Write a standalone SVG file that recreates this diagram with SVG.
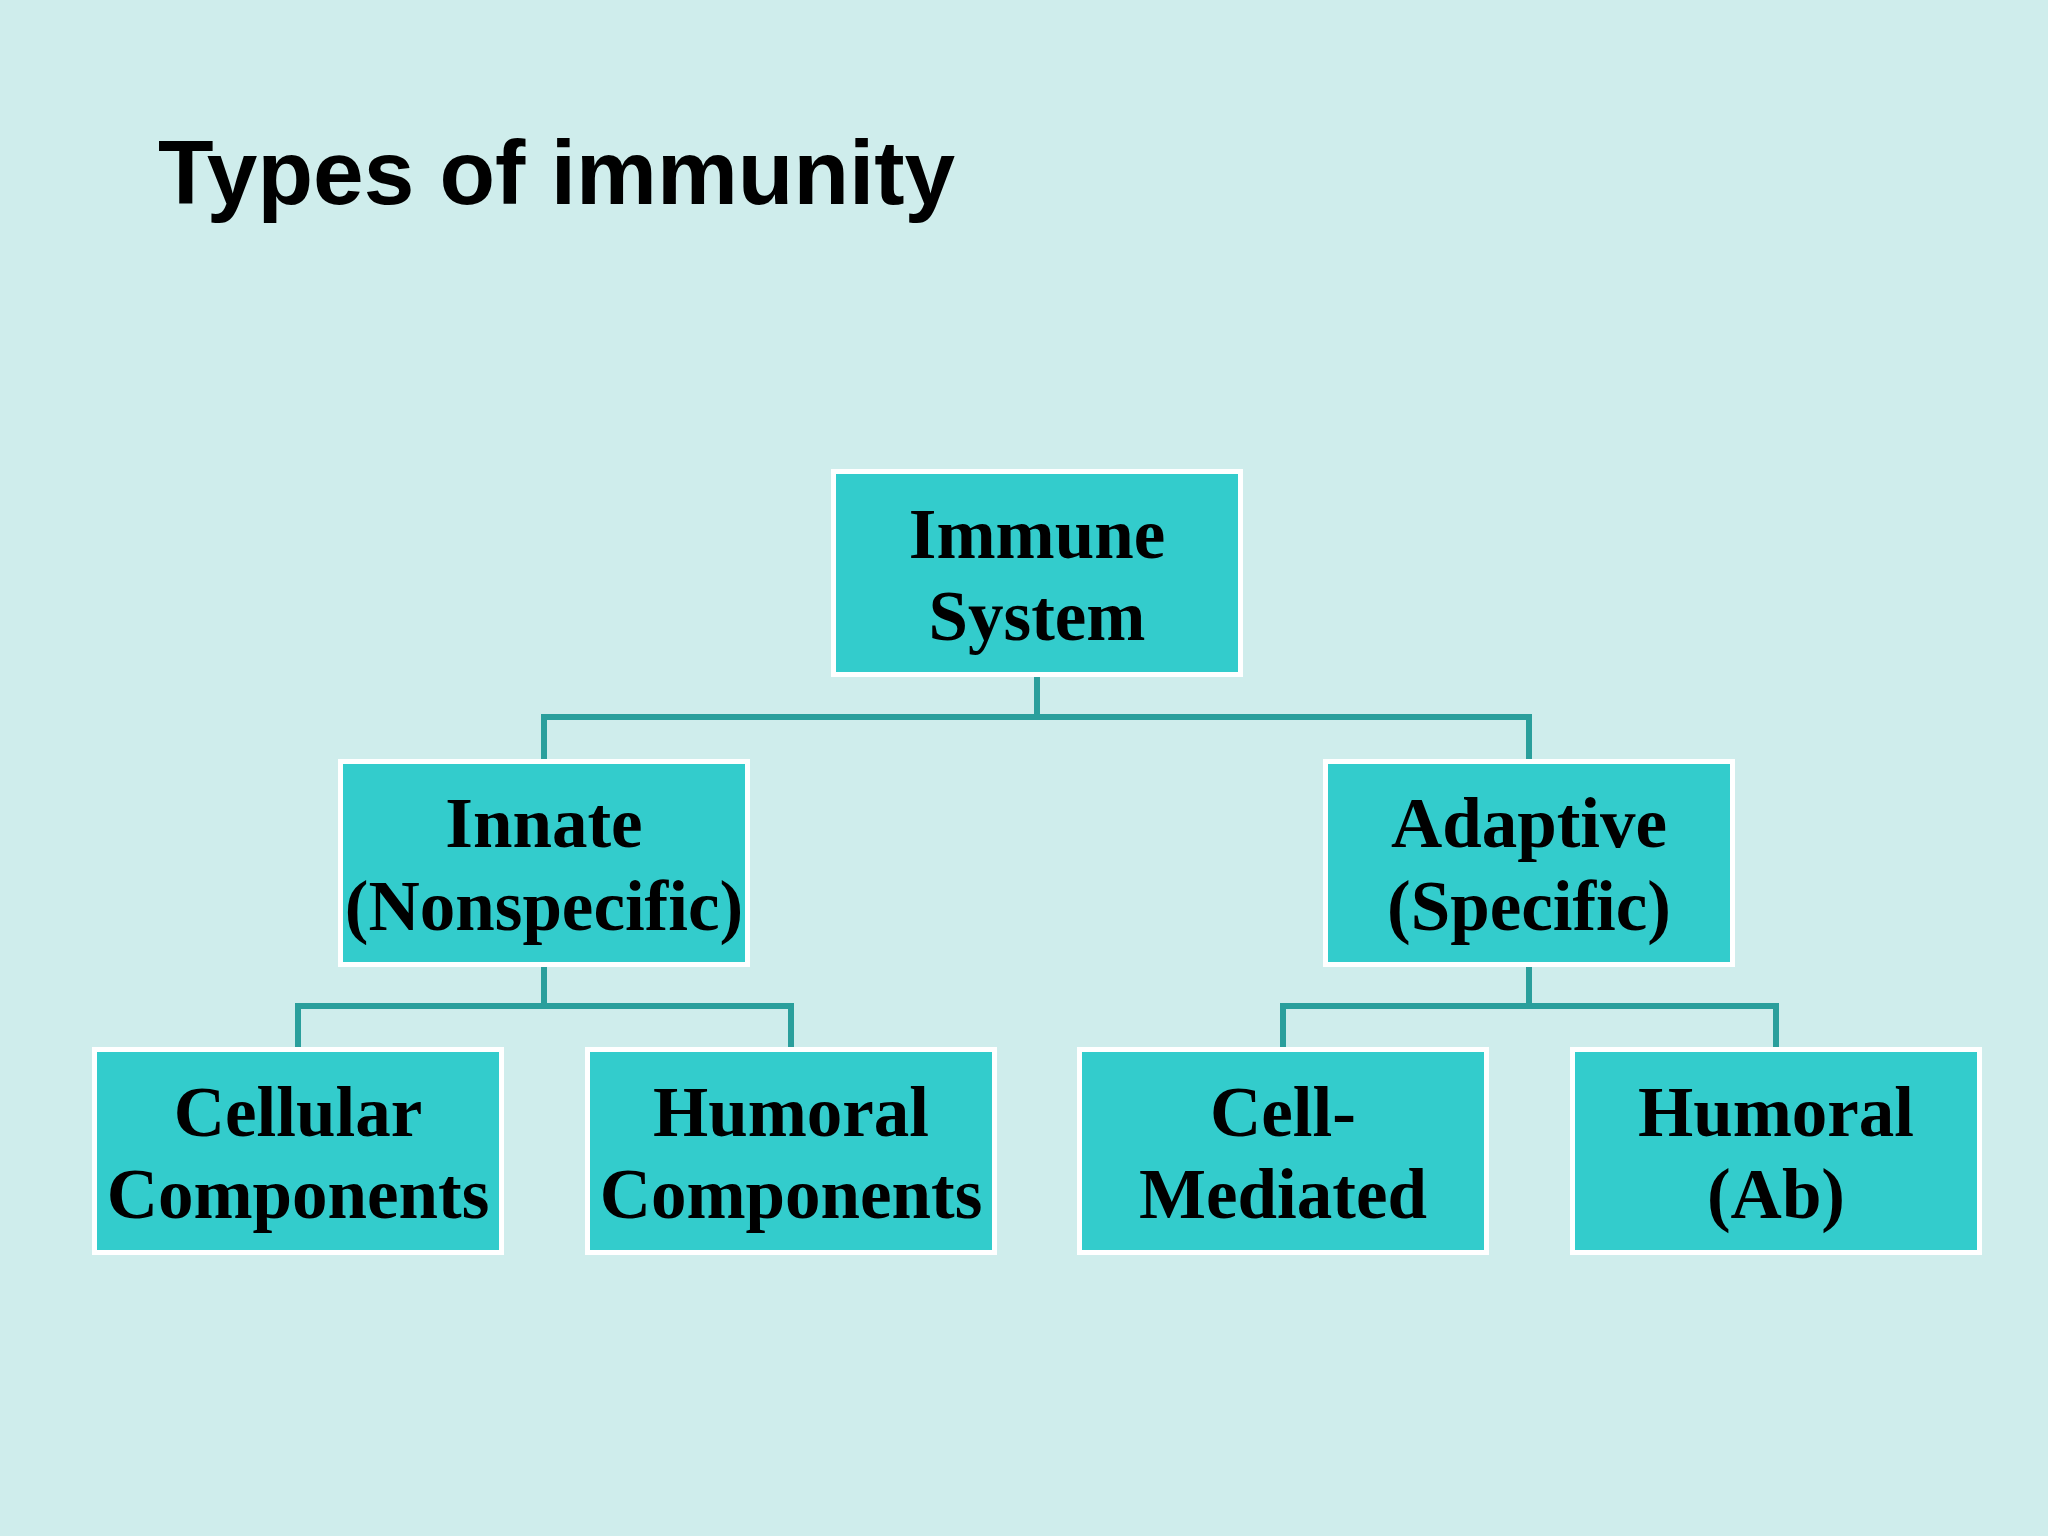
<svg xmlns="http://www.w3.org/2000/svg" width="2048" height="1536" viewBox="0 0 2048 1536">
  <style>
    .box { fill: #33CCCC; stroke: #FFFFFF; stroke-width: 5; }
    .lbl { font-family: "Liberation Serif", "Times New Roman", serif; font-weight: bold; font-size: 71px; fill: #000000; text-anchor: middle; }
    .conn { fill: none; stroke: #2A9F9C; stroke-width: 6; stroke-linejoin: miter; }
    .title { font-family: "Liberation Sans", Arial, sans-serif; font-weight: bold; font-size: 91px; fill: #000000; }
  </style>
  <rect x="0" y="0" width="2048" height="1536" fill="#CFEDEC"/>
  <text class="title" x="158" y="204">Types of immunity</text>

  <g id="connectors">
    <path class="conn" d="M1037 677 V717 M544 759 V717 H1529 V759"/>
    <path class="conn" d="M544 967 V1006 M298 1047 V1006 H791 V1047"/>
    <path class="conn" d="M1529 967 V1006 M1283 1047 V1006 H1776 V1047"/>
  </g>

  <g id="immune-system">
    <rect class="box" x="833.5" y="471.5" width="407" height="203"/>
    <text class="lbl" x="1037" y="558">Immune</text>
    <text class="lbl" x="1037" y="640">System</text>
  </g>
  <g id="innate">
    <rect class="box" x="340.5" y="761.5" width="407" height="203"/>
    <text class="lbl" x="544" y="847">Innate</text>
    <text class="lbl" x="544" y="930">(Nonspecific)</text>
  </g>
  <g id="adaptive">
    <rect class="box" x="1325.5" y="761.5" width="407" height="203"/>
    <text class="lbl" x="1529" y="847">Adaptive</text>
    <text class="lbl" x="1529" y="930">(Specific)</text>
  </g>
  <g id="cellular-components">
    <rect class="box" x="94.5" y="1049.5" width="407" height="203"/>
    <text class="lbl" x="298" y="1136">Cellular</text>
    <text class="lbl" x="298" y="1218">Components</text>
  </g>
  <g id="humoral-components">
    <rect class="box" x="587.5" y="1049.5" width="407" height="203"/>
    <text class="lbl" x="791" y="1136">Humoral</text>
    <text class="lbl" x="791" y="1218">Components</text>
  </g>
  <g id="cell-mediated">
    <rect class="box" x="1079.5" y="1049.5" width="407" height="203"/>
    <text class="lbl" x="1283" y="1136">Cell-</text>
    <text class="lbl" x="1283" y="1218">Mediated</text>
  </g>
  <g id="humoral-ab">
    <rect class="box" x="1572.5" y="1049.5" width="407" height="203"/>
    <text class="lbl" x="1776" y="1136">Humoral</text>
    <text class="lbl" x="1776" y="1218">(Ab)</text>
  </g>
</svg>
